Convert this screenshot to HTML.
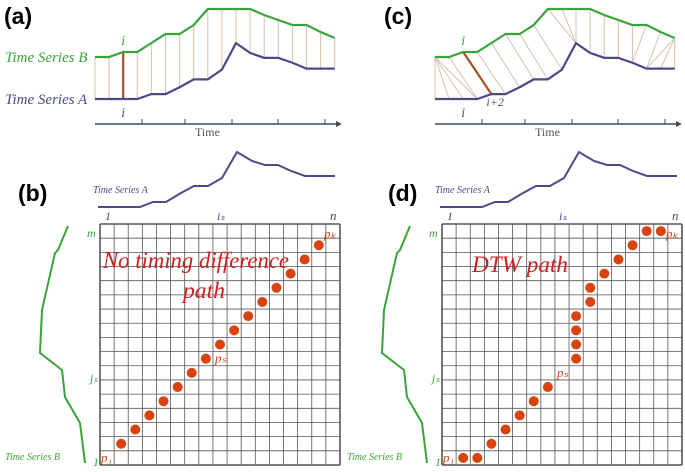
<!DOCTYPE html>
<html><head><meta charset="utf-8"><style>
html,body{margin:0;padding:0;background:#fff;width:685px;height:472px;overflow:hidden}
svg{display:block}
.lbl{font-family:"Liberation Sans",Arial,sans-serif;font-weight:bold;font-size:23px;fill:#000}
.it{font-family:"Liberation Serif",serif;font-style:italic}
</style></head><body>
<svg id="fig" width="685" height="472" viewBox="0 0 685 472"></svg>
<script>
// Series values (top panels, relative heights)
const seriesB = [48,48,53,53,62,71,71,80,96,96,96,96,90,85,80,80,73,67];
const seriesA = [5,5,5,5,10,10,17,25,25,35,62,52,47,47,42,36,36,36];
// DTW mapping for panel (c): [B index, A index]
const dtwPairs = [[0,0],[0,1],[0,2],[0,3],[1,3],[2,4],[3,5],[4,6],[5,7],[6,8],[7,9],[8,10],[9,10],[10,10],[11,11],[12,12],[13,13],[14,14],[15,14],[16,15],[17,15],[17,16],[17,17]];
// Grid panels
const gridN = 17;
const pathB = [[1,1],[2,2],[3,3],[4,4],[5,5],[6,6],[7,7],[8,8],[9,9],[10,10],[11,11],[12,12],[13,13],[14,14],[15,15]];
const pathD = [[1,0],[2,0],[3,1],[4,2],[5,3],[6,4],[7,5],[9,7],[9,8],[9,9],[9,10],[10,11],[10,12],[11,13],[12,14],[13,15],[14,16],[15,16]];
// small series A above grid and series B left of grid
const smallA = [0,0,5,5,14,21,21,29,55,46,42,42,36,31,31];
const smallAx = [0,42,55,68,83,96,110,124,139,154,167,180,193,207,237];
const smallB = [28,18,15,2,0,22,25,40,45];

const svg = document.getElementById('fig');
const NS='http://www.w3.org/2000/svg';
function mk(tag, attrs, parent){const e=document.createElementNS(NS,tag);for(const k in attrs)e.setAttribute(k,attrs[k]);(parent||svg).appendChild(e);return e;}
function txt(x,y,s,cls,fill,size,parent){const t=mk('text',{x:x,y:y,class:cls,fill:fill,'font-size':size},parent);t.textContent=s;return t;}

function topPanel(ox, tag, dtw){
  const g=mk('g',{});
  
  
  const xs=i=>ox+i*14.1;
  const yB=v=>57-(v-48)*1.0;
  const yA=v=>99-(v-5)*0.98;
  if(!dtw){
    seriesB.forEach((v,i)=>{
      const hl=i===2;
      const l=mk('line',{x1:xs(i),y1:yB(v),x2:xs(i),y2:yA(seriesA[i]),stroke:hl?'#a0522d':'#d9bfae','stroke-width':hl?2.2:1},g);
      
      
    });
  } else {
    dtwPairs.forEach(p=>{
      const hl=p[0]===2;
      const l=mk('line',{x1:xs(p[0]),y1:yB(seriesB[p[0]]),x2:xs(p[1]),y2:yA(seriesA[p[1]]),stroke:hl?'#a0522d':'#d9bfae','stroke-width':hl?2.2:1},g);
      
      
    });
  }
  const pb=mk('polyline',{points:seriesB.map((v,i)=>xs(i)+','+yB(v)).join(' '),fill:'none',stroke:'#3aa33a','stroke-width':2.2},g);
  
  
  const pa=mk('polyline',{points:seriesA.map((v,i)=>xs(i)+','+yA(v)).join(' '),fill:'none',stroke:'#4a4a8a','stroke-width':2.2},g);
  
  
  const ax=mk('line',{x1:ox,y1:124,x2:ox+243,y2:124,stroke:'#3d4f5f','stroke-width':1.5},g);
  
  
  mk('polygon',{points:(ox+247)+',124 '+(ox+241)+',121 '+(ox+241)+',127',fill:'#3d4f5f'},g);
  [47,90,137,183,230].forEach(d=>mk('line',{x1:ox+d,y1:119,x2:ox+d,y2:124,stroke:'#3d4f5f'},g));
  const tt=txt(ox+100,136,'Time','','#555',12,g);
  tt.setAttribute('font-family','Liberation Serif,serif');
  
  
  txt(xs(2)-2,45,'i','it','#3aa33a',14,g);
  txt(xs(2)-2,117,'i','it','#4a4a8a',14,g);
  if(dtw) txt(xs(4)-5,106,'i+2','it','#4a4a8a',12,g);
}

function gridPanel(ox, tag, path, labelLines, lblPos, lblLen){
  const g=mk('g',{});
  
  
  const gx=ox, gy=224, W=240, H=241, cw=W/gridN, ch=H/gridN;
  for(let i=0;i<=gridN;i++){
    mk('line',{x1:gx+i*cw,y1:gy,x2:gx+i*cw,y2:gy+H,stroke:'#555','stroke-width':(i===0||i===gridN)?1.6:0.8},g);
    mk('line',{x1:gx,y1:gy+i*ch,x2:gx+W,y2:gy+i*ch,stroke:'#555','stroke-width':(i===0||i===gridN)?1.6:0.8},g);
  }
  const cx=c=>gx+(c+0.5)*cw, cy=r=>gy+H-(r+0.5)*ch;
  path.forEach(p=>{
    const d=mk('circle',{cx:cx(p[0]),cy:cy(p[1]),r:5,fill:'#d8430f'},g);
    
    
  });
  txt(gx+1,gy+H-3,'p₁','it','#d8430f',13,g);
  txt(gx+W-16,gy+14,'pₖ','it','#d8430f',13,g);
  const ps = tag==='b'?[8,7]:[8,6];
  txt(cx(ps[0])-5,cy(ps[1])+4,'pₛ','it','#d8430f',13,g);
  const sa=mk('polyline',{points:smallA.map((v,i)=>(gx-2+smallAx[i])+','+(207-v*1.0)).join(' '),fill:'none',stroke:'#4a4a8a','stroke-width':2},g);
  
  
  txt(gx-7,193,'Time Series A','it','#4a4a8a',10,g);
  txt(gx+5,220,'1','it','#4a4a8a',12,g);
  txt(gx+117,220,'iₛ','it','#4a4a8a',12,g);
  txt(gx+230,220,'n','it','#4a4a8a',13,g);
  const byS=[226,250,253,310,353,370,397,423,463];
  const sb=mk('polyline',{points:smallB.map((v,i)=>(gx-60+v)+','+byS[i]).join(' '),fill:'none',stroke:'#3aa33a','stroke-width':2},g);
  
  
  txt(gx-13,237,'m','it','#3aa33a',12,g);
  txt(gx-10,382,'jₛ','it','#3aa33a',12,g);
  txt(gx-7,466,'1','it','#3aa33a',12,g);
  txt(gx-95,460,'Time Series B','it','#3aa33a',10,g);
  labelLines.forEach((s,i)=>{
    const t=txt(lblPos[i][0],lblPos[i][1],s,'it','#cc1f1f',23,g);
    t.setAttribute('textLength',lblLen[i]);
    t.setAttribute('lengthAdjust','spacingAndGlyphs');
    
    
  });
}

topPanel(95,'a',false);
topPanel(435,'c',true);
gridPanel(100,'b',pathB,['No timing difference','path'],[[103,268],[183,298]],[186,42]);
gridPanel(442,'d',pathD,['DTW path'],[[472,272]],[96]);

[['(a)',4,24],['(b)',18,201],['(c)',384,24],['(d)',388,201]].forEach(l=>{
  const t=txt(l[1],l[2],l[0],'lbl','#000',23);
  
  
});
[[5,62,'Time Series B','#3aa33a'],[5,104,'Time Series A','#4a4a8a']].forEach(l=>{
  const t=txt(l[0],l[1],l[2],'it',l[3],15);
  
  
});
</script>
</body></html>
